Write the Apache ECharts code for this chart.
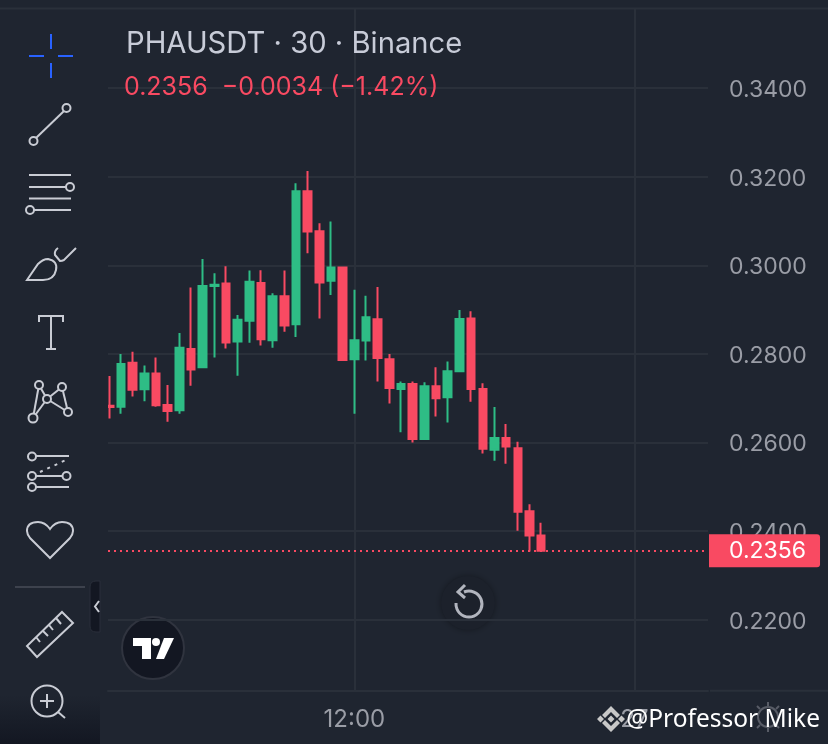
<!DOCTYPE html>
<html><head><meta charset="utf-8">
<style>html,body{margin:0;padding:0;background:#1f2530}#c{width:828px;height:744px}</style>
<script src="https://cdn.jsdelivr.net/npm/echarts@6/dist/echarts.min.js"></script>
</head><body><div id="c"></div>
<script>
// half-hour slots (12:00 = slot 24, next midnight "27" = slot 48)
const slots = [3,4,5,6,7,8,9,10,11,12,13,14,15,16,17,18,19,20,21,22,23,24,25,26,27,28,29,30,31,32,33,34,35,36,37,38,39,40];
const opens = [.2683,.2681,.2780,.2720,.2756,.2685,.2673,.2811,.2770,.2953,.2959,.2828,.2875,.2960,.2831,.2930,.2867,.3167,.3077,.2965,.2995,.2788,.2830,.2878,.2788,.2721,.2732,.2608,.2727,.2702,.2761,.2880,.2721,.2584,.2610,.2587,.2445,.2390];
const closes = [.2680,.2777,.2719,.2756,.2684,.2671,.2814,.2765,.2953,.2956,.2826,.2877,.2963,.2833,.2930,.2864,.3167,.3076,.2961,.2995,.2786,.2831,.2883,.2791,.2723,.2732,.2608,.2727,.2700,.2761,.2879,.2721,.2586,.2610,.2591,.2444,.2390,.2356];
const lows = [.2654,.2665,.2704,.2693,.2681,.2647,.2665,.2728,.2770,.2792,.2812,.2751,.2825,.2819,.2814,.2850,.2838,.3027,.2880,.2933,.2785,.2665,.2785,.2738,.2688,.2623,.2600,.2607,.2659,.2645,.2761,.2692,.2575,.2559,.2552,.2401,.2354,.2354];
const highs = [.2750,.2800,.2805,.2774,.2792,.2730,.2847,.2950,.3014,.2982,.2998,.2888,.2988,.2989,.2937,.2988,.3185,.3213,.3095,.3099,.2995,.2945,.2931,.2951,.2800,.2738,.2738,.2736,.2770,.2783,.2899,.2896,.2734,.2680,.2642,.2602,.2461,.2419];
const priceTicks = [.22,.24,.26,.28,.30,.32,.34];
const timeTicks = [24,48];
const timeLabels = {24:'12:00',48:'27'};
const lastPrice = 0.2356;
const titleText = 'PHAUSDT · 30 · Binance';
const quoteText = '0.2356  −0.0034 (−1.42%)';
const watermark = '@Professor Mike';

const BG='#1f2530',RED='#f94a62',GREEN='#2ebd85',ICON='#c9ccd4',GRID='#2a303a',AXT='#9a9da6';
const fontFam='Inter, Roboto, sans-serif';
const st=(w,c)=>({fill:null,stroke:c||ICON,lineWidth:w||2});
const ln=(x1,y1,x2,y2,c,w,dash)=>({type:'line',shape:{x1,y1,x2,y2},style:{stroke:c||ICON,lineWidth:w||2,lineDash:dash||null}});
const cr=(cx,cy,r,w,c)=>({type:'circle',shape:{cx,cy,r},style:Object.assign(st(w||2,c),{fill:BG})});
let pathId=0;
const path=(d,style)=>{const n='iconPath'+(pathId++);echarts.graphic.registerShape(n,echarts.graphic.extendPath(d,{}));return {type:n,style};};
const B='#2962ff';
const gfx=[
 {type:'rect',shape:{x:0,y:695,width:100,height:49},style:{fill:new echarts.graphic.LinearGradient(0,0,0,1,[{offset:0,color:'rgba(19,23,34,0)'},{offset:1,color:'#131722'}])}},
 ln(0,8.5,828,8.5,GRID,2),ln(710,690.7,828,690.7,GRID,2),
 {type:'rect',z:10,shape:{x:100,y:360,width:8,height:70},style:{fill:BG}},
 ln(51,34,51,49,B),ln(51,63,51,78,B),ln(29,56,44,56,B),ln(58,56,73,56,B),
 ln(36,138,64,111),cr(66.5,108,4),cr(33.5,141,4),
 ln(29,175,71,175),ln(29,187,67,187),cr(70,187,4),ln(29,198.5,71,198.5),ln(34,210,71,210),cr(30,210,4),
 path('M27,280 L38,264 Q43,259 48,259 Q58,261 56,270 Q54,280 43,280 Z',st(2)),
 path('M58,248 Q54,251 55,255 L60,261 Q62,261 64,260 L76,248',st(2)),
 path('M39,322 L39,316 L63,316 L63,322 M51,316 L51,349 M46,349 L56,349',st(2)),
 ln(39,385,47,399),ln(39,385,33,418),ln(47,399,62,387),ln(47,399,33,418),ln(47,399,68,412),ln(62,387,68,412),
 cr(39,385,4),cr(62,387,4),cr(47,399,4),cr(33,418,4.5),cr(68,412,4),
 ln(35,456,69,456),cr(32,456.5,4),ln(40,472,66,460,ICON,2,[3,5]),ln(36,476,63,476),cr(32,476,4),cr(66.5,476,4),ln(36,487,69,487),cr(32,487,4),
 path('M50,558 L30,538 Q27,534 27,531 Q27,522 38,522 Q45,522 50,529 Q55,522 62,522 Q73,522 73,531 Q73,534 70,538 Z',st(2)),
 ln(15,587,85,587,'#3d424d',2),
 path('M100,581 L96,581 Q90,581 90,587 L90,626 Q90,632 96,632 L100,632 Z',{fill:'#131722',stroke:'#2a2f3a',lineWidth:1}),
 path('M99,601 L95,606.5 L99,612',st(2)),
 path('M62,612 L73,623 L37,657 L27,646 Z',st(2)),
 ln(36,637,40,642),ln(43,631,48,636),ln(49,625,53,630),ln(56,618,61,624),
 {type:'circle',shape:{cx:47,cy:701,r:15.5},style:st(2)},ln(40,701,54,701),ln(47,694,47,708),ln(58,712,65,718),
 {type:'circle',shape:{cx:153,cy:648,r:31},style:{fill:'#131722',stroke:'#30343f',lineWidth:2}},
 path('M133,638 L151,638 L151,659 L142,659 L142,646 L133,646 Z',{fill:'#fff'}),
 {type:'circle',shape:{cx:156,cy:642,r:4},style:{fill:'#fff'}},
 path('M164,638 L174,638 L164,659 L156,659 Z',{fill:'#fff'}),
 {type:'circle',shape:{cx:468,cy:603,r:27},style:{fill:'#1c212b',shadowBlur:6,shadowColor:'rgba(0,0,0,.35)'}},
 path('M464,592 A13,13 0 1 1 456,603 M465,585 L458,592 L465,598',st(3,'#b2b5be')),
 Object.assign(path('M611,706 L620,715 L617,718 L611,712 L605,718 L602,715 Z M611,732 L620,723 L617,720 L611,726 L605,720 L602,723 Z M611,715.5 L614.5,719 L611,722.5 L607.5,719 Z M597,719 L600.5,715.5 L604,719 L600.5,722.5 Z M618,719 L621.5,715.5 L625,719 L621.5,722.5 Z',{fill:'#c8c8c8'}),{z:10}),
 {type:'circle',shape:{cx:768,cy:717,r:10},style:st(2,'#585c66')},
 ln(768,702,768,706,'#585c66'),ln(768,728,768,732,'#585c66'),ln(757,706,760,709,'#585c66'),ln(779,706,776,709,'#585c66'),ln(757,728,760,725,'#585c66'),ln(779,728,776,725,'#585c66'),
 {type:'text',z:11,x:820,y:720,style:{text:watermark,fill:'#fff',font:'24.5px "Noto Sans", sans-serif',textAlign:'right',textVerticalAlign:'middle'}}
];

const chart=echarts.init(document.getElementById('c'),null,{renderer:'canvas'});
chart.setOption({
 animation:false,backgroundColor:BG,
 title:[
  {text:titleText,left:126,top:30,padding:0,textStyle:{color:'#c8ccd8',fontSize:29.2,fontWeight:'normal',fontFamily:fontFam}},
  {text:quoteText,left:124,top:75,padding:0,textStyle:{color:RED,fontSize:25,fontWeight:'normal',fontFamily:fontFam}}
 ],
 grid:{left:108,width:600,top:8,height:682.7},
 xAxis:{type:'value',min:2.889,max:54.3,
  axisLine:{show:true,lineStyle:{color:GRID,width:2}},axisTick:{show:false,customValues:timeTicks},
  axisLabel:{customValues:timeTicks,color:AXT,fontSize:24,margin:17,fontFamily:fontFam,formatter:v=>timeLabels[v]||''},
  splitLine:{show:true,customValues:timeTicks,lineStyle:{color:GRID,width:2}}},
 yAxis:{type:'value',position:'right',min:0.204,max:0.35806,
  axisLine:{show:false},axisTick:{show:false,customValues:priceTicks},
  axisLabel:{customValues:priceTicks,margin:21,formatter:v=>'{p|'+v.toFixed(4)+'}',
   rich:{p:{color:AXT,fontSize:23,fontFamily:fontFam,padding:[4,0,0,0]}}},
  splitLine:{show:true,customValues:priceTicks,lineStyle:{color:GRID,width:2}}},
 series:[{type:'candlestick',barWidth:8,clip:true,
  encode:{x:0,y:[1,2,3,4]},
  data:slots.map((s,i)=>[s,opens[i],closes[i],lows[i],highs[i]]),
  itemStyle:{color:GREEN,color0:RED,borderColor:GREEN,borderColor0:RED,borderWidth:2},
  markLine:{silent:true,symbol:'none',animation:false,precision:4,
   lineStyle:{color:RED,width:2,type:[2,4],opacity:1},
   label:{show:true,position:'end',distance:1,formatter:()=>lastPrice.toFixed(4),color:'#fff',fontSize:23,fontFamily:fontFam,
    backgroundColor:RED,padding:[5,14,5,20],borderRadius:[0,3,3,0]},
   data:[{yAxis:lastPrice}]}}],
 graphic:gfx
});
</script></body></html>
